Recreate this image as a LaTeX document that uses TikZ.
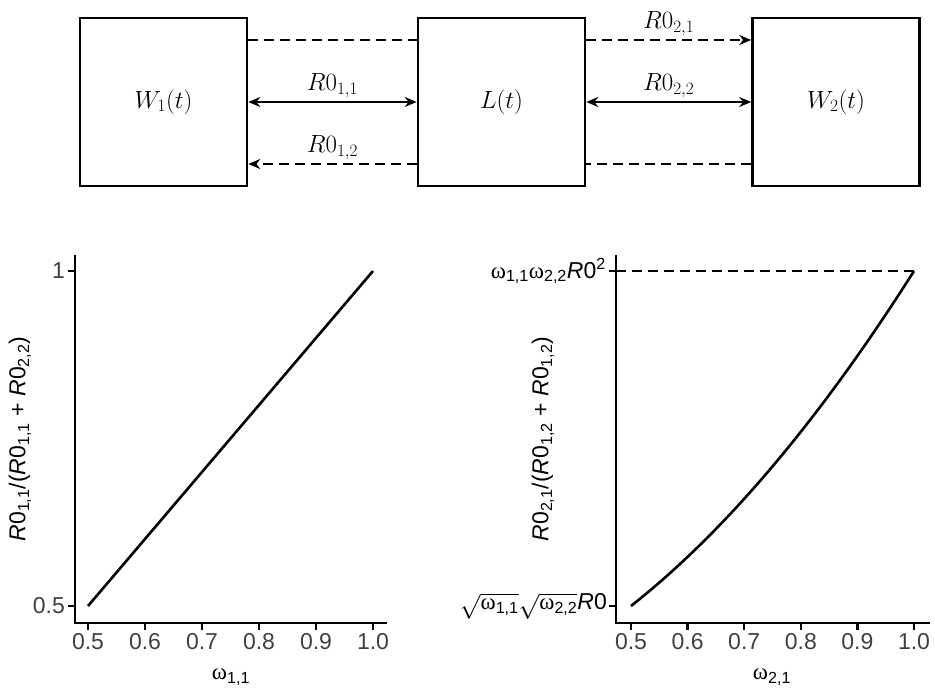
\documentclass[tikz,border=0pt]{standalone}
\usepackage{fontspec}
\setsansfont{Liberation Sans}
\newfontfamily\omg{Liberation Serif}
\usetikzlibrary{arrows.meta}
\tikzset{
  box/.style={draw, line width=2.6pt, minimum width=167pt, minimum height=168pt, font=\fontsize{27}{30}\selectfont},
  flow/.style={line width=2.4pt, -{Stealth[length=12pt,width=10pt]}},
  both/.style={line width=2.4pt, {Stealth[length=12pt,width=10pt]}-{Stealth[length=12pt,width=10pt]}},
  dashline/.style={dash pattern=on 10pt off 6pt},
  lab/.style={font=\fontsize{26}{30}\selectfont},
  tick/.style={font=\sffamily\fontsize{23}{26}\selectfont, text=black!75},
  axis/.style={line width=2.4pt},
}
\newcommand{\wsub}[1]{{\omg ω}\textsubscript{#1}}
\newcommand{\Rz}[1]{\textit{R}0\textsubscript{#1}}
\begin{document}
\begin{tikzpicture}[x=1pt,y=-1pt]
\useasboundingbox (0,0) rectangle (935,692);
% compartments
\node[box] (W1) at (163.5,102) {$W_1(t)$};
\node[box] (L) at (501.5,102) {$L(t)$};
\node[box] (W2) at (836,102) {$W_2(t)$};
% connectors
\draw[line width=2.4pt,dashline] ([yshift=62pt]W1.east) -- ([yshift=62pt]L.west);
\draw[flow,dashline] ([yshift=62pt]L.east) -- ([yshift=62pt]W2.west)
  node[lab, midway, above] {$R0_{2,1}$};
\draw[both] (W1.east) -- (L.west) node[lab, midway, above] {$R0_{1,1}$};
\draw[both] (L.east) -- (W2.west) node[lab, midway, above] {$R0_{2,2}$};
\draw[line width=2.4pt,dashline] ([yshift=-62pt]W2.west) -- ([yshift=-62pt]L.east);
\draw[flow,dashline] ([yshift=-62pt]L.west) -- ([yshift=-62pt]W1.east)
  node[lab, midway, above] {$R0_{1,2}$};
% left panel
\coordinate (O1) at (75,623);
\draw[axis] (75,255) -- (O1) -- (387,623);
\foreach \v/\t in {0.5/0.5,0.6/0.6,0.7/0.7,0.8/0.8,0.9/0.9,1.0/1.0} {
  \draw[axis] ({88+(\v-0.5)*570},623) -- ++(0,7)
    node[tick, below, inner ysep=2pt] {\t};
}
\draw[axis] (75,271) -- ++(-7,0) node[tick, left, inner xsep=2pt] {1};
\draw[axis] (75,606) -- ++(-7,0) node[tick, left, inner xsep=2pt] {0.5};
\draw[line width=2.6pt] (88,606) -- (373,271);
\node[tick, text=black] at (231,677) {\wsub{1,1}};
\node[tick, text=black, rotate=90] at (20,439) {\Rz{1,1}/(\Rz{1,1} + \Rz{2,2})};
% right panel
\coordinate (O2) at (616,623);
\draw[axis] (616,255) -- (O2) -- (930,623);
\foreach \v/\t in {0.5/0.5,0.6/0.6,0.7/0.7,0.8/0.8,0.9/0.9,1.0/1.0} {
  \draw[axis] ({631+(\v-0.5)*566},623) -- ++(0,7)
    node[tick, below, inner ysep=2pt] {\t};
}
\draw[axis] (616,271) -- ++(-7,0) node[tick, left, text=black, inner xsep=2pt] {\wsub{1,1}\wsub{2,2}\textit{R}0\textsuperscript{2}};
\draw[axis] (616,606) -- ++(-7,0) node[tick, left, text=black, inner xsep=1pt] {$\sqrt{\hbox{\wsub{1,1}}}\sqrt{\hbox{\wsub{2,2}}}$\textit{R}0};
\draw[axis, dashline] (616,271) -- (914,271);
\draw[line width=2.6pt] plot[domain=0.5:1, samples=40, smooth] ({631+(\x-0.5)*566},{606-(\x*\x-0.25)/0.75*335});
\node[tick, text=black] at (772,677) {\wsub{2,1}};
\node[tick, text=black, rotate=90] at (543,439) {\Rz{2,1}/(\Rz{1,2} + \Rz{1,2})};
\end{tikzpicture}
\end{document}
